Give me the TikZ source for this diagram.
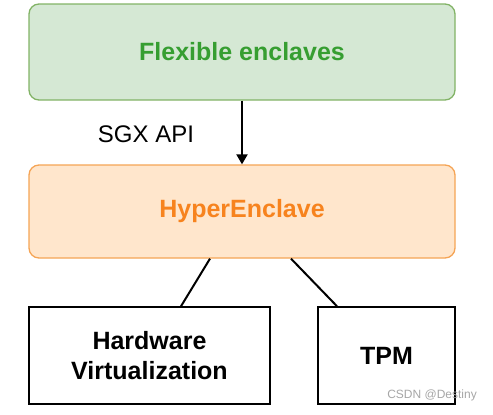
\documentclass[tikz,border=0pt]{standalone}
\usepackage{fontspec}
\setmainfont{Liberation Sans}
\usepackage{xcolor}
\usepackage{tikz}
\usetikzlibrary{arrows.meta, calc, positioning}
\definecolor{flexfill}{HTML}{D5E8D4}
\definecolor{flexdraw}{HTML}{82B366}
\definecolor{flextext}{HTML}{369E31}
\definecolor{hyperfill}{HTML}{FFE6CC}
\definecolor{hyperdraw}{HTML}{F5A455}
\definecolor{hypertext}{HTML}{F7831E}
\tikzset{
    roundnode/.style = {draw, rectangle, rounded corners=10pt, line width=1.3pt, inner sep = 0em, 
      node distance=0em, font=\fontsize{25}{30}\selectfont\bfseries},
    rectanglenode/.style = {draw, rectangle, line width=1.5pt, inner sep = 0em, node distance=0em, 
      font=\fontsize{25}{29.5}\selectfont\bfseries},
    textnode/.style  = {draw=none, fill=none, rectangle, minimum size=0cm, inner sep = 0em, 
      node distance=0em, font=\fontsize{24}{29}\selectfont},
    connect/.style = {black, line width=2pt, -{Triangle[length=10pt, width=11pt]}},
    link/.style = {black, line width=2pt},
    every text node part/.style={align=center}
}

\begin{document}
\begin{tikzpicture}
    \useasboundingbox (0,0) rectangle (493pt,-415pt);

    \node [name=flex, roundnode, minimum width=426pt, minimum height=96pt, fill=flexfill, 
        draw=flexdraw, text=flextext] at (242pt,-52pt) {Flexible enclaves}; 
    \node [name=hyper, roundnode, minimum width=426pt, minimum height=93pt, fill=hyperfill, 
        draw=hyperdraw, text=hypertext, below of = flex, yshift=-159.5pt] {HyperEnclave}; 

    \node [name=hw, rectanglenode, minimum width=241pt, minimum height=97pt, 
        below of = hyper, xshift=-92.5pt, yshift=-144pt] {Hardware\\Virtualization}; 
    \node [name=tpm, rectanglenode, minimum width=137pt, minimum height=97pt, 
        below of = hyper, xshift=144.5pt, yshift=-144pt] {TPM}; 

    \draw (flex) edge[connect] node[name=api, textnode, left, xshift=-47pt, yshift=-1.5pt]{SGX API} (hyper); 
    \draw [link] ([xshift=-32pt]hyper.south) -- ([xshift=31.5pt]hw.north); 
    \draw [link] ([xshift=49pt]hyper.south) -- ([xshift=-49.5pt]tpm.north); 

    \node [name=mark, textnode, font=\fontsize{12}{14}\selectfont, text=black!35, anchor=east] 
        at (477pt,-395pt) {CSDN @Destiny}; 
\end{tikzpicture}
\end{document}
